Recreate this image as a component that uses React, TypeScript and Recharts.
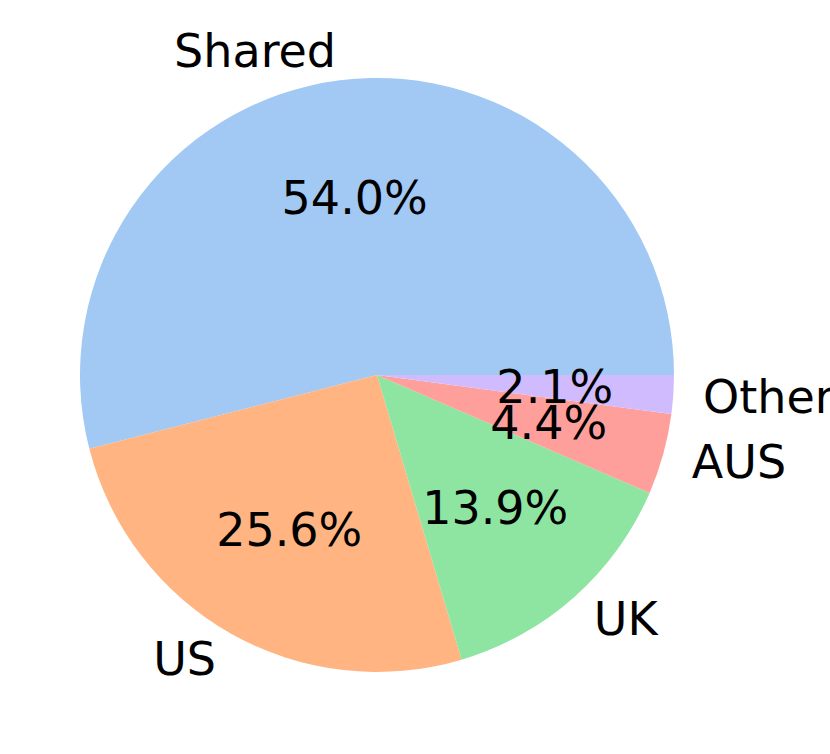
import React from "react";
import { PieChart, Pie, Cell } from "recharts";

const categories = ["Shared", "US", "UK", "AUS", "Other"];
const shares = [54.0, 25.6, 13.9, 4.4, 2.1];
const colors = ["#a1c9f4", "#ffb482", "#8de5a1", "#ff9f9b", "#d0bbff"];

const data = categories.map((name, i) => ({ name, value: shares[i] }));

const RADIAN = Math.PI / 180;
const FONT = "DejaVu Sans, sans-serif";
const FS = 46;

const renderLabel = (props: any) => {
  const { cx, cy, midAngle, outerRadius, percent, name } = props;
  const cos = Math.cos(-midAngle * RADIAN);
  const sin = Math.sin(-midAngle * RADIAN);
  const pr = outerRadius * 0.6;
  const lr = outerRadius * 1.1;
  const px = cx + pr * cos;
  const py = cy + pr * sin;
  const lx = cx + lr * cos;
  const ly = cy + lr * sin;
  return (
    <g>
      <text
        x={px}
        y={py}
        textAnchor="middle"
        dominantBaseline="central"
        fontFamily={FONT}
        fontSize={FS}
        fill="#000"
      >
        {(percent * 100).toFixed(1) + "%"}
      </text>
      <text
        x={lx}
        y={ly}
        textAnchor={lx >= cx ? "start" : "end"}
        dominantBaseline="central"
        fontFamily={FONT}
        fontSize={FS}
        fill="#000"
      >
        {name}
      </text>
    </g>
  );
};

export default function App() {
  return (
    <div style={{ position: "absolute", left: 0, top: 0, width: 830, height: 754, background: "#fff", overflow: "hidden" }}>
      <PieChart width={830} height={754} margin={{ top: 0, right: 0, bottom: 0, left: 0 }}>
        <Pie
          data={data}
          dataKey="value"
          nameKey="name"
          cx={377}
          cy={375}
          outerRadius={297}
          startAngle={0}
          endAngle={360}
          stroke="none"
          labelLine={false}
          label={renderLabel}
          isAnimationActive={false}
        >
          {data.map((d, i) => (
            <Cell key={d.name} fill={colors[i]} />
          ))}
        </Pie>
      </PieChart>
    </div>
  );
}
